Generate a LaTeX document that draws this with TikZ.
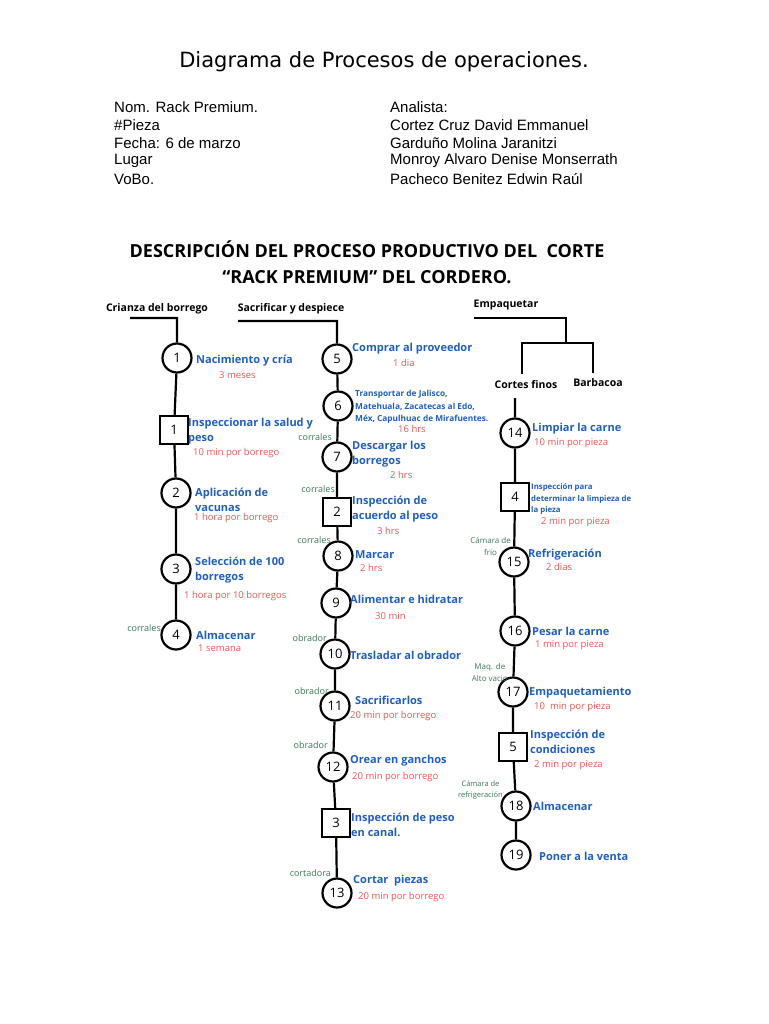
\documentclass[tikz,border=0pt]{standalone}
\usepackage{fontspec}
\setmainfont{Open Sans}
\newfontfamily\arialf{Liberation Sans}
\newfontfamily\dejaf{DejaVu Sans}
\definecolor{bl}{HTML}{1F5FBF}
\definecolor{rd}{HTML}{F05555}
\definecolor{gr}{HTML}{3A7A55}
\begin{document}
\begin{tikzpicture}[x=1pt,y=-1pt,
 op/.style={circle,draw,line width=2.2pt,minimum size=29pt,inner sep=0pt,font=\fontsize{13}{13}\selectfont,fill=white},
 insp/.style={rectangle,draw,line width=2.2pt,minimum size=28pt,inner sep=0pt,font=\fontsize{13}{13}\selectfont,fill=white},
 ln/.style={line width=2.2pt},
 bt/.style={anchor=west,inner sep=0pt,text=bl,font=\bfseries\fontsize{11}{15}\selectfont,align=left},
 sb/.style={anchor=west,inner sep=0pt,text=bl,font=\bfseries\fontsize{8.3}{12.5}\selectfont,align=left},
 rt/.style={anchor=west,inner sep=0pt,text=rd,font=\fontsize{9.5}{11}\selectfont},
 gt/.style={anchor=east,inner sep=0pt,text=gr,font=\fontsize{9}{12}\selectfont,align=center},
 hd/.style={inner sep=0pt,font=\bfseries\fontsize{10.5}{12}\selectfont},
 ht/.style={anchor=west,inner sep=0pt,font=\arialf\fontsize{15}{18}\selectfont}]
\useasboundingbox (0,0) rectangle (768,1024);
\fill[white] (0,0) rectangle (768,1024);
\node[inner sep=0pt,font=\dejaf\fontsize{21}{24}\selectfont] (title) at (384,62) {Diagrama de Procesos de operaciones.};
\node[ht] (h1) at (114,107) {Nom. Rack Premium.};
\node[ht] (h2) at (114,125) {\#Pieza};
\node[ht] (h3) at (114,143) {Fecha: 6 de marzo};
\node[ht] (h4) at (114,161) {Lugar};
\node[ht] (h5) at (114,179) {VoBo.};
\node[ht] (a1) at (390,107) {Analista:};
\node[ht] (a2) at (390,125) {Cortez Cruz David Emmanuel};
\node[ht] (a3) at (390,143) {Garduño Molina Jaranitzi};
\node[ht] (a4) at (390,161) {Monroy Alvaro Denise Monserrath};
\node[ht] (a5) at (390,179) {Pacheco Benitez Edwin Raúl};
\node[inner sep=0pt,font=\bfseries\fontsize{18}{26}\selectfont,align=center] (big) at (367,262) {DESCRIPCIÓN DEL PROCESO PRODUCTIVO DEL\ \ CORTE\\“RACK PREMIUM” DEL CORDERO.};
% column 1
\node[hd] (c1h) at (157,309) {Crianza del borrego};
\coordinate (c1s) at (130,318);
\node[op] (n1) at (177,358) {1};
\node[insp] (i1) at (174,430) {1};
\node[op] (n2) at (176,493) {2};
\node[op] (n3) at (176,569) {3};
\node[op] (n4) at (176,635) {4};
\draw[ln] (c1s) -- (177,318) -- (n1) -- (i1) -- (n2) -- (n3) -- (n4);
\node[bt] (t1) at (196,361) {Nacimiento y cría};
\node[rt] (r1) at (219,375) {3 meses};
\node[bt] (t2) at (188,431) {Inspeccionar la salud y\\peso};
\node[rt] (r2) at (193,453) {10 min por borrego};
\node[bt] (t3) at (195,500) {Aplicación de\\vacunas};
\node[rt] (r3) at (194,518) {1 hora por borrego};
\node[bt] (t4) at (195,570) {Selección de 100\\borregos};
\node[rt] (r4) at (184,596) {1 hora por 10 borregos};
\node[gt] (g1) at (161,628) {corrales};
\node[bt] (t5) at (196,635) {Almacenar};
\node[rt] (r5) at (198,648) {1 semana};
% column 2
\node[hd] (c2h) at (291,309) {Sacrificar y despiece};
\coordinate (c2s) at (238,321);
\node[op] (n5) at (337,359) {5};
\node[op] (n6) at (338,406) {6};
\node[op] (n7) at (337,457) {7};
\node[insp] (i2) at (337,512) {2};
\node[op] (n8) at (338,556) {8};
\node[op] (n9) at (336,603) {9};
\node[op] (n10) at (335,654) {10};
\node[op] (n11) at (335,706) {11};
\node[op] (n12) at (333,767) {12};
\node[insp] (i3) at (336,823) {3};
\node[op] (n13) at (337,893) {13};
\draw[ln] (c2s) -- (337,321) -- (n5) -- (n6) -- (n7) -- (i2) -- (n8) -- (n9) -- (n10) -- (n11) -- (n12) -- (i3) -- (n13);
\node[bt] (t6) at (352,349) {Comprar al proveedor};
\node[rt] (r6) at (393,363) {1 dia};
\node[sb] (t7) at (355,407) {Transportar de Jalisco,\\Matehuala, Zacatecas al Edo,\\Méx, Capulhuac de Mirafuentes.};
\node[rt] (r7) at (398,429) {16 hrs};
\node[gt] (g2) at (332,437) {corrales};
\node[bt] (t8) at (352,454) {Descargar los\\borregos};
\node[rt] (r8) at (390,475) {2 hrs};
\node[gt] (g3) at (335,489) {corrales};
\node[bt] (t9) at (352,509) {Inspección de\\acuerdo al peso};
\node[rt] (r9) at (377,531) {3 hrs};
\node[gt] (g4) at (331,540) {corrales};
\node[bt] (t10) at (355,555) {Marcar};
\node[rt] (r10) at (360,568) {2 hrs};
\node[bt] (t11) at (350,599) {Alimentar e hidratar};
\node[rt] (r11) at (375,616) {30 min};
\node[gt] (g5) at (327,638) {obrador};
\node[bt] (t12) at (350,655) {Trasladar al obrador};
\node[gt] (g6) at (329,691) {obrador};
\node[bt] (t13) at (355,700) {Sacrificarlos};
\node[rt] (r13) at (350,716) {20 min por borrego};
\node[gt] (g7) at (328,745) {obrador};
\node[bt] (t14) at (350,761) {Orear en ganchos};
\node[rt] (r14) at (352,777) {20 min por borrego};
\node[bt] (t15) at (351,825) {Inspección de peso\\en canal.};
\node[gt] (g8) at (331,873) {cortadora};
\node[bt] (t16) at (353,881) {Cortar\ \ piezas};
\node[rt] (r16) at (358,897) {20 min por borrego};
% column 3
\node[hd] (c3h) at (506,305) {Empaquetar};
\coordinate (c3s) at (474,318);
\coordinate (c3a) at (522,374);
\coordinate (c3b) at (593,373);
\node[hd] (cf) at (526,385) {Cortes finos};
\node[hd] (bb) at (598,383) {Barbacoa};
\draw[ln] (c3s) -- (566,318) -- (566,343);
\draw[ln] (c3a) -- (522,343) -- (593,343) -- (c3b);
\coordinate (c3t) at (515,398);
\node[op] (n14) at (515,433) {14};
\node[insp] (i4) at (515,497) {4};
\node[op] (n15) at (514,562) {15};
\node[op] (n16) at (515,631) {16};
\node[op] (n17) at (513,692) {17};
\node[insp] (i5) at (513,747) {5};
\node[op] (n18) at (516,806) {18};
\node[op] (n19) at (516,855) {19};
\draw[ln] (c3t) -- (n14) -- (i4) -- (n15) -- (n16) -- (n17) -- (i5) -- (n18) -- (n19);
\node[bt] (t17) at (532,429) {Limpiar la carne};
\node[rt] (r17) at (534,443) {10 min por pieza};
\node[sb,font=\bfseries\fontsize{7.8}{11.5}\selectfont] (t18) at (531,499) {Inspección para\\determinar la limpieza de\\la pieza};
\node[rt] (r18) at (541,522) {2 min por pieza};
\node[gt,font=\fontsize{8}{12}\selectfont] (g9) at (511,546) {Cámara de\\frio};
\node[bt] (t19) at (528,555) {Refrigeración};
\node[rt] (r19) at (546,567) {2 dias};
\node[bt] (t20) at (532,631) {Pesar la carne};
\node[rt] (r20) at (535,645) {1 min por pieza};
\node[gt,font=\fontsize{8}{12}\selectfont] (g10) at (508,672) {Maq. de\\Alto vacio};
\node[bt] (t21) at (529,693) {Empaquetamiento};
\node[rt] (r21) at (534,707) {10\ \ min por pieza};
\node[bt] (t22) at (530,742) {Inspección de\\condiciones};
\node[rt] (r22) at (534,765) {2 min por pieza};
\node[gt,font=\fontsize{7.5}{11}\selectfont] (g11) at (503,790) {Cámara de\\refrigeración};
\node[bt] (t23) at (533,806) {Almacenar};
\node[bt] (t24) at (539,856) {Poner a la venta};
\end{tikzpicture}
\end{document}
